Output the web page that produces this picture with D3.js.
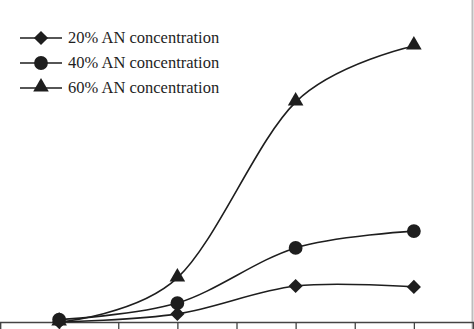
<!DOCTYPE html>
<html><head><meta charset="utf-8">
<script src="https://cdn.jsdelivr.net/npm/d3@7"></script>
<style>body{margin:0;background:#fff}svg{display:block}</style>
</head><body>
<svg id="c" width="474" height="329"></svg>
<script>
const xValues = [1, 3, 5, 7];
const xTicks = [0, 1, 2, 3, 4, 5, 6, 7, 8];
const series20 = [0, 2.7, 12.0, 11.7];
const series40 = [0.8, 6.3, 24.7, 30.3];
const series60 = [0, 14.7, 73.3, 92.0];
const seriesNames = ["20% AN concentration", "40% AN concentration", "60% AN concentration"];
const seriesValues = [series20, series40, series60];
const markerTypes = [d3.symbolSquare, d3.symbolCircle, d3.symbolTriangle];
const markerSizes = [100, 150, 105];
const markerRotate = [45, 0, 0];

const svg = d3.select("#c");
const W = 474, H = 329;
const x = d3.scaleLinear().domain([0, 8]).range([0, 473]);
const y = d3.scaleLinear().domain([0, 100]).range([322, 22]);
const ink = "#1e1e1e";

// right border
svg.append("line").attr("x1", 472.5).attr("x2", 472.5).attr("y1", 0).attr("y2", H)
  .attr("stroke", "#bdbdbd").attr("stroke-width", 2);

// x axis
const xAxis = d3.axisBottom(x).tickValues(xTicks).tickSize(7).tickFormat("");
const gx = svg.append("g").attr("transform", `translate(0,${y(0)})`).call(xAxis);
gx.select(".domain").attr("stroke", "#444").attr("stroke-width", 1.5);
gx.selectAll(".tick line").attr("stroke", "#444").attr("stroke-width", 1.3);

const line = d3.line().x((d, i) => x(xValues[i])).y(d => y(d)).curve(d3.curveCardinal.tension(0));

function marker(sel, k, cx, cy) {
  sel.append("path")
    .attr("transform", `translate(${cx},${cy + (k === 2 ? -1 : 0)}) rotate(${markerRotate[k]})`)
    .attr("d", d3.symbol().type(markerTypes[k]).size(markerSizes[k]))
    .attr("fill", ink);
}

seriesValues.forEach((vals, k) => {
  svg.append("path").attr("d", line(vals)).attr("fill", "none")
    .attr("stroke", ink).attr("stroke-width", 1.6);
  vals.forEach((d, i) => marker(svg, k, x(xValues[i]), y(d)));
});

// legend
const lg = svg.append("g");
const ly = [38, 63, 88];
seriesNames.forEach((name, k) => {
  lg.append("line").attr("x1", 20).attr("x2", 62).attr("y1", ly[k]).attr("y2", ly[k])
    .attr("stroke", ink).attr("stroke-width", 1.6);
  marker(lg, k, 41, ly[k]);
  lg.append("text").attr("x", 68).attr("y", ly[k] + 5)
    .attr("font-family", "Liberation Serif, Times New Roman, serif")
    .attr("font-size", 16.5).attr("fill", ink).text(name);
});
</script>
</body></html>
